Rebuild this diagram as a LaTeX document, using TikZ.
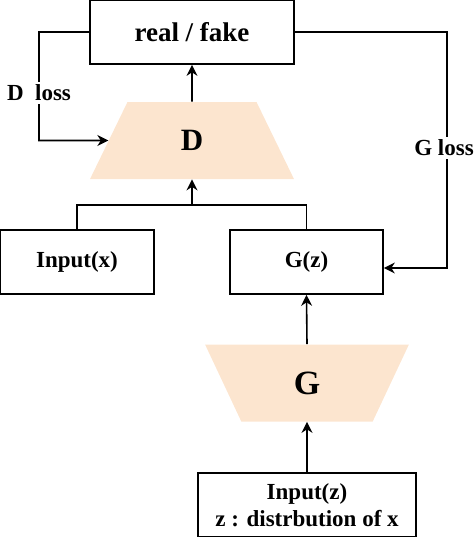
\documentclass[tikz,border=0pt]{standalone}
\usepackage{fontspec}
\setmainfont{Liberation Serif}
\usetikzlibrary{positioning,arrows.meta,shapes.geometric,calc}
\definecolor{melocoton}{RGB}{252,229,207}

\begin{document}
\begin{tikzpicture}[x=0.5pt,y=-0.5pt,
  caja/.style={draw, line width=0.85pt, fill=white,
    font=\bfseries\fontsize{11.5}{13.5}\selectfont, align=center,
    minimum height=32pt, inner sep=2pt},
  trapecio/.style={trapezium, fill=melocoton, trapezium stretches=true,
    inner sep=0pt, minimum width=102pt, minimum height=38.5pt},
  rel/.style={-{Stealth[length=5.5pt,width=5.5pt]}, line width=0.8pt},
  linea/.style={line width=0.8pt},
  etiqueta/.style={fill=white, inner sep=1.5pt,
    font=\bfseries\fontsize{11.5}{13}\selectfont}
]
\useasboundingbox (0,0) rectangle (474,537);
% Discriminador
\node[caja, minimum width=102pt, font=\bfseries\fontsize{13.5}{15}\selectfont]
  (rf) at (192,32) {real / fake};
\node[trapecio, trapezium left angle=72.3, trapezium right angle=72.3,
  font=\bfseries\fontsize{15.5}{18}\selectfont] (D) at (192,140.5) {D};
% Entradas
\node[caja, minimum width=77pt] (ix) at (77,262) {Input(x)};
\node[caja, minimum width=76.5pt] (gz) at (306.5,262) {G(z)};
% Generador
\node[trapecio, trapezium left angle=107.7, trapezium right angle=107.7,
  font=\bfseries\fontsize{17}{20}\selectfont] (G) at (307,383) {G};
\node[caja, minimum width=109pt] (iz) at (307,505)
  {Input(z)\\ z : distrbution of x};
% Puntos de paso
\coordinate (dl) at (39,140.5);
\coordinate (gl) at (447,268);
\coordinate (jn) at (192,205);
% Conexiones
\draw[rel] (D.north) -- (rf.south);
\draw[rel] (rf.west) -| node[etiqueta, pos=0.78] {D\ \ loss} (dl) -- (D.west);
\draw[rel] (rf.east) -| node[etiqueta, pos=0.745, xshift=-1.5pt] {G loss}
  (gl) -- (gz.east |- gl);
\draw[linea] (ix.north) |- (jn) -| (gz.north);
\draw[rel] (jn) -- (D.south);
\draw[rel] (G.north) -- (gz.south);
\draw[rel] (iz.north) -- (G.south);
\end{tikzpicture}
\end{document}
